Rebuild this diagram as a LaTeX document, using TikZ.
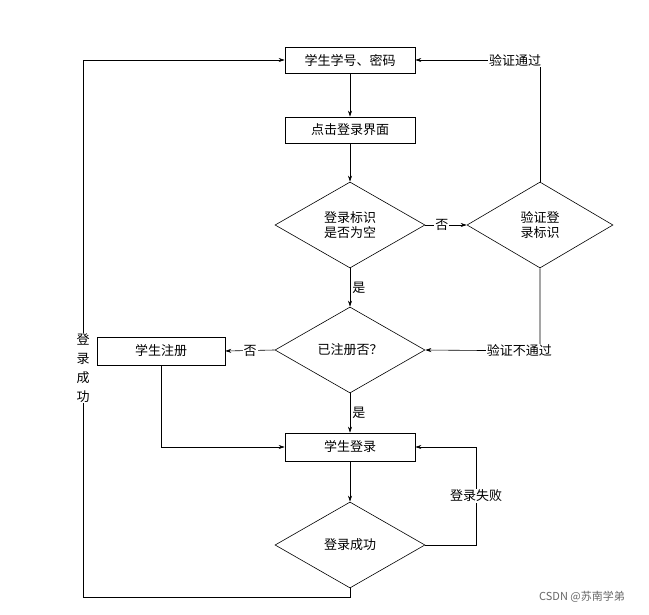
\documentclass[tikz,border=0pt]{standalone}
\usepackage{fontspec}
\newfontfamily\cjk{Noto Sans CJK SC}
\usetikzlibrary{shapes.geometric,arrows.meta}
\begin{document}
\begin{tikzpicture}[x=1pt,y=-1pt,font=\cjk\fontsize{13}{15}\selectfont,
  box/.style={draw,minimum width=130pt,minimum height=26pt,inner sep=0pt},
  dia/.style={draw,diamond,minimum width=150pt,minimum height=86pt,inner sep=0pt,align=center,aspect=1.74},
  lab/.style={fill=white,inner sep=1pt},
  arr/.style={-{Stealth[length=6pt,width=4pt]}},
  line width=0.6pt]
\useasboundingbox (0,0) rectangle (649,615);
\node[box] (a) at (350,60) {学生学号、密码};
\node[box] (b) at (350,130) {点击登录界面};
\node[dia] (c) at (350,225) {登录标识\\是否为空};
\node[dia,minimum width=146pt] (d) at (540,225) {验证登\\录标识};
\node[dia] (e) at (350,350) {已注册否？};
\node[box,minimum width=128pt,minimum height=28pt] (f) at (161,351) {学生注册};
\node[box,minimum height=28pt] (g) at (350,447) {学生登录};
\node[dia] (h) at (350,545) {登录成功};
\coordinate (p1) at (350,597);
\coordinate (p2) at (83,597);
\coordinate (p3) at (83,60);
\coordinate (q1) at (476,545);
\coordinate (q2) at (476,447);
\coordinate (r1) at (540,60);
\coordinate (s1) at (540,351);
\coordinate (t1) at (161,447);
\draw[arr] (a) -- (b);
\draw[arr] (b) -- (c);
\draw[arr] (c.south) -- node[right,inner sep=2pt,pos=0.5]{是} (e.north);
\draw[arr] (c.east) -- node[lab,pos=0.4]{否} (d.west);
\draw[arr] (d.north) -- (r1) -- node[lab,pos=0.2,fill=white]{验证通过} (a.east);
\draw[arr] (d.south) -- (s1) -- node[lab,pos=0.18]{验证不通过} (e.east);
\draw[arr] (e.west) -- node[lab,pos=0.5]{否} (f.east);
\draw[arr] (e.south) -- node[right,inner sep=2pt]{是} (g.north);
\draw[arr] (f.south) -- (t1) -- (g.west);
\draw[arr] (g) -- (h);
\draw[arr] (h.east) -- (q1) -- node[lab,pos=0.5]{登录失败} (q2) -- (g.east);
\draw[arr] (h.south) -- (p1) -- (p2) -- (p3) -- (a.west);
\node[lab,align=center,font=\cjk\fontsize{13}{19}\selectfont] at (83,368) {登\\录\\成\\功};
\node[text=gray!80!black,font=\cjk\fontsize{11}{13}\selectfont] at (582,597) {CSDN @苏南学弟};
\end{tikzpicture}
\end{document}
